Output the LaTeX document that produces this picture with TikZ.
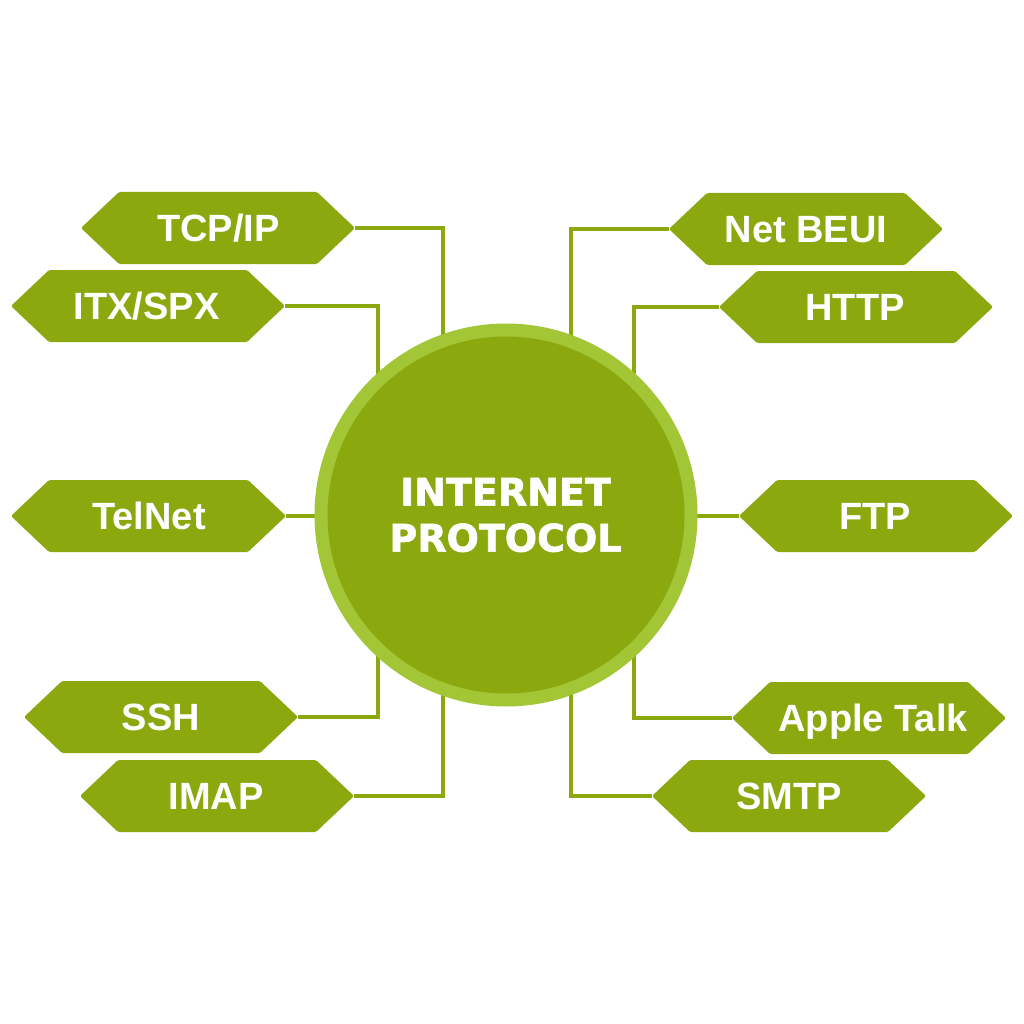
\documentclass[tikz,border=0pt]{standalone}
\usepackage{fontspec}
\setmainfont{Liberation Sans}
\newfontfamily\hubfont[BoldFeatures={FakeBold=1.6}]{DejaVu Sans}
\usetikzlibrary{calc,backgrounds}
\definecolor{leaf}{HTML}{8BA80F}
\definecolor{ring}{HTML}{A3C636}
\tikzset{
  hexshape/.style={fill=leaf,rounded corners=1.5pt},
  hexlabel/.style={text=white,inner sep=0pt,font=\fontsize{38}{38}\selectfont\bfseries,anchor=base},
  wire/.style={draw=leaf,line width=4pt},
  hubouter/.style={circle,fill=ring,minimum size=383pt,inner sep=0pt},
  hubinner/.style={circle,fill=leaf,minimum size=357pt,inner sep=0pt},
  hublabel/.style={text=white,align=center,inner sep=0pt,font=\hubfont\fontsize{38}{46}\selectfont\bfseries}
}
% name, left x, right x, centre y, text centre x, text
\newcommand{\hexbox}[6]{%
  \path[hexshape] (#2,#4) -- (#2+38,#4-36) -- (#3-38,#4-36) -- (#3,#4) -- (#3-38,#4+36) -- (#2+38,#4+36) -- cycle;
  \coordinate (#1-l) at (#2,#4);
  \coordinate (#1-r) at (#3,#4);
  \node[hexlabel] (#1) at (#5,#4+13.5) {#6};
}
\begin{document}
\begin{tikzpicture}[x=1pt,y=-1pt]
\useasboundingbox (0,0) rectangle (1024,1024);
\node[hubouter] (hub) at (506,515) {};
\node[hubinner] (core) at (506,515) {};
\node[hublabel] (title) at (505.5,515) {INTERNET\\PROTOCOL};
\hexbox{tcp}{81}{355}{228}{218.5}{TCP/IP}
\hexbox{itx}{11}{285}{306}{146.5}{ITX/SPX}
\hexbox{telnet}{11}{286}{516}{149}{TelNet}
\hexbox{ssh}{24}{298}{717}{161}{SSH}
\hexbox{imap}{80}{354}{796}{216}{IMAP}
\hexbox{net}{669}{943}{229}{806}{Net BEUI}
\hexbox{http}{719}{993}{307}{855}{HTTP}
\hexbox{ftp}{739}{1013}{516}{875}{FTP}
\hexbox{apple}{732}{1006}{718}{873}{Apple Talk}
\hexbox{smtp}{652}{926}{796}{789}{SMTP}
\begin{scope}[on background layer]
\fill[white] (0,0) rectangle (1024,1024);
\draw[wire] (tcp-r) -| ($(hub.center)+(-63,0)$);
\draw[wire] (itx-r) -| ($(hub.center)+(-128,0)$);
\draw[wire] (telnet-r) -- (hub.center |- telnet-r);
\draw[wire] (ssh-r) -| ($(hub.center)+(-128,0)$);
\draw[wire] (imap-r) -| ($(hub.center)+(-63,0)$);
\draw[wire] (net-l) -| ($(hub.center)+(65,0)$);
\draw[wire] (http-l) -| ($(hub.center)+(128,0)$);
\draw[wire] (ftp-l) -- (hub.center |- ftp-l);
\draw[wire] (apple-l) -| ($(hub.center)+(128,0)$);
\draw[wire] (smtp-l) -| ($(hub.center)+(65,0)$);
\end{scope}
\end{tikzpicture}
\end{document}
